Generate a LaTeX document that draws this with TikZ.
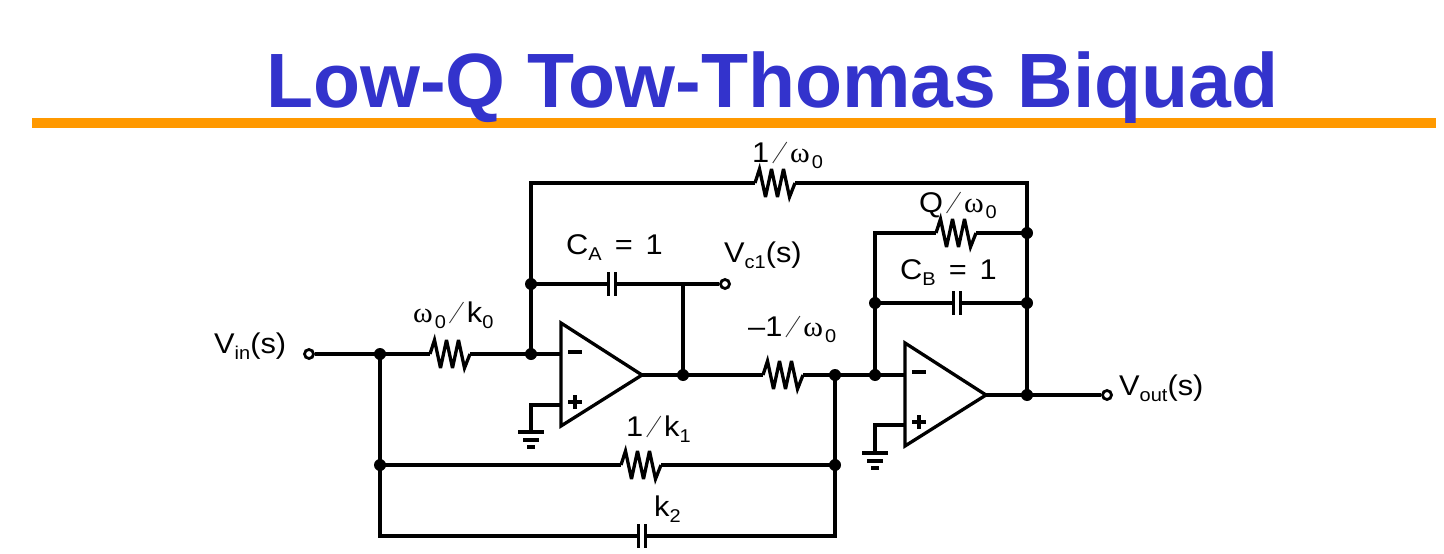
\documentclass[tikz,border=0pt]{standalone}
\usepackage{fontspec}
\setmainfont{Liberation Sans}
\newfontfamily\symfont[FakeStretch=1.05]{Liberation Serif}
\newfontfamily\labfont[FakeStretch=1.08]{Liberation Sans}
\usetikzlibrary{calc}
\definecolor{titleblue}{RGB}{51,51,204}
\definecolor{barorange}{RGB}{255,153,0}
\newcommand{\lab}{\labfont\fontsize{28.5}{30}\selectfont}
\newcommand{\sbs}[1]{\raisebox{-6pt}{\fontsize{18.5}{20}\selectfont #1}}
\newcommand{\om}{{\symfont ω}\hspace{2pt}}
\newcommand{\sla}{\hspace{3pt}\tikz[baseline=0pt]\draw[line width=.9pt,black!75] (0,-1pt)--(14pt,20pt);\hspace{3pt}}
\newcommand{\res}[3]{%
  \coordinate (#1-l) at (#2-20,#3); \coordinate (#1-r) at (#2+20,#3);
  \draw[wire,line join=miter,miter limit=4] (#2-20,#3) -- ++(4.5,-14) -- ++(6,28) -- ++(6,-28) -- ++(6,28) -- ++(6,-28) -- ++(6,28) -- (#2+20,#3);}
\newcommand{\capa}[3]{%
  \coordinate (#1-l) at (#2-4,#3); \coordinate (#1-r) at (#2+4,#3);
  \draw[wire] (#2-3.5,#3-12) -- (#2-3.5,#3+12) (#2+3.5,#3-12) -- (#2+3.5,#3+12);}
\newcommand{\gnd}[3]{%
  \coordinate (#1) at (#2,#3);
  \draw[wire] (#2-13,#3) -- (#2+13,#3) (#2-8,#3+8) -- (#2+8,#3+8) (#2-4,#3+15) -- (#2+4,#3+15);}
\newcommand{\opamp}[3]{%
  \coordinate (#1-m) at (#2,#3-21); \coordinate (#1-p) at (#2,#3+30);
  \coordinate (#1-o) at (#2+81,#3);
  \draw[wire,line join=miter] (#2,#3-52) -- (#2,#3+51) -- (#2+81,#3) -- cycle;
  \draw[wire] (#2+7,#3-23) -- (#2+21,#3-23) (#2+7,#3+27) -- (#2+21,#3+27) (#2+14,#3+20) -- (#2+14,#3+34);}
\tikzset{
  wire/.style={line width=3.3pt,line cap=butt},
  dot/.style={circle,fill=black,inner sep=0pt,minimum size=12pt},
  term/.style={circle,draw=black,fill=white,line width=2.8pt,inner sep=0pt,minimum size=9pt},
  txt/.style={inner sep=0pt,font=\lab},
}
\begin{document}
\begin{tikzpicture}[x=1pt,y=-1pt]
\useasboundingbox (0,0) rectangle (1444,554);
\fill[white] (0,0) rectangle (1444,554);
\fill[barorange] (32,118) rectangle (1436,128);
\node[inner sep=0pt,anchor=base,text=titleblue,font=\fontsize{77}{80}\selectfont\bfseries] (title) at (772.5,107) {Low-Q Tow-Thomas Biquad};
% components
\res{r1}{450}{354}
\res{r2}{775}{183}
\res{r3}{783}{375}
\res{r4}{956}{233}
\res{r5}{641}{465}
\capa{c1}{612}{284}
\capa{c2}{957}{303}
\capa{c3}{642}{536}
\opamp{a1}{561}{375}
\opamp{a2}{905}{395}
\gnd{g1}{531}{432}
\gnd{g2}{875}{453}
% nodes
\node[dot] (n1) at (380,354) {};
\node[dot] (n2) at (531,354) {};
\node[dot] (n3) at (531,284) {};
\node[dot] (n4) at (683,375) {};
\node[dot] (n5) at (835,375) {};
\node[dot] (n6) at (875,375) {};
\node[dot] (n7) at (875,303) {};
\node[dot] (n8) at (1027,233) {};
\node[dot] (n9) at (1027,303) {};
\node[dot] (n10) at (1027,395) {};
\node[dot] (n11) at (380,465) {};
\node[dot] (n12) at (835,465) {};
\coordinate (tl) at (531,183);
\coordinate (tr) at (1027,183);
\coordinate (ql) at (875,233);
\coordinate (cj) at (683,284);
\coordinate (bl) at (380,536);
\coordinate (br) at (835,536);
\coordinate (g1c) at (531,405);
\coordinate (g2c) at (875,425);
\node[term] (vin) at (309,354) {};
\node[term] (vc1) at (725,284) {};
\node[term] (vout) at (1107,395) {};
% wires
\draw[wire] (r1-r) -- (n2.center) -- (a1-m);
\draw[wire] (r1-l) -- (n1.center);
\draw[wire,line join=miter] (n2.center) -- (tl) -- (r2-l);
\draw[wire,line join=miter] (r2-r) -- (tr) -- (n10.center);
\draw[wire] (n3.center) -- (c1-l);
\draw[wire] (c1-r) -- (cj);
\draw[wire] (cj) -- (n4.center);
\draw[wire] (a1-o) -- (r3-l);
\draw[wire] (r3-r) -- (n6.center) -- (n6 -| a2-m);
\draw[wire,line join=miter] (n6.center) -- (ql) -- (r4-l);
\draw[wire] (r4-r) -- (n8.center);
\draw[wire] (n7.center) -- (c2-l);
\draw[wire] (c2-r) -- (n9.center);
\draw[wire,line join=miter] (a1-p) -- (g1c) -- (g1);
\draw[wire,line join=miter] (a2-p) -- (g2c) -- (g2);
\draw[wire,line join=miter] (n1.center) -- (bl) -- (c3-l);
\draw[wire,line join=miter] (c3-r) -- (br) -- (n5.center);
\draw[wire] (n11.center) -- (r5-l);
\draw[wire] (r5-r) -- (n12.center);
\draw[wire] (cj) -- (vc1);
\draw[wire] (a2-o) -- (vout);
\draw[wire] (vin) -- (n1.center);
% labels
\node[txt,anchor=base west] (lb1) at (214,353) {V\sbs{in}(s)};
\node[txt,anchor=base west] (lb2) at (724,262) {V\sbs{c1}(s)};
\node[txt,anchor=base west] (lb3) at (1119,395) {V\sbs{out}(s)};
\node[txt,anchor=base west] (lb4) at (566,254) {C\sbs{A}\hspace{13pt}=\hspace{13pt}1};
\node[txt,anchor=base west] (lb5) at (900,279) {C\sbs{B}\hspace{13pt}=\hspace{13pt}1};
\node[txt,anchor=base west] (lb6) at (752,162) {1\sla\om\sbs{0}};
\node[txt,anchor=base west] (lb7) at (919,212) {Q\sla\om\sbs{0}};
\node[txt,anchor=base west] (lb8) at (413,322) {\om\sbs{0}\sla k\sbs{0}};
\node[txt,anchor=base west] (lb9) at (748,336) {–1\sla\om\sbs{0}};
\node[txt,anchor=base west] (lb10) at (626,436) {1\sla k\sbs{1}};
\node[txt,anchor=base west] (lb11) at (654,516) {k\sbs{2}};
\end{tikzpicture}
\end{document}
